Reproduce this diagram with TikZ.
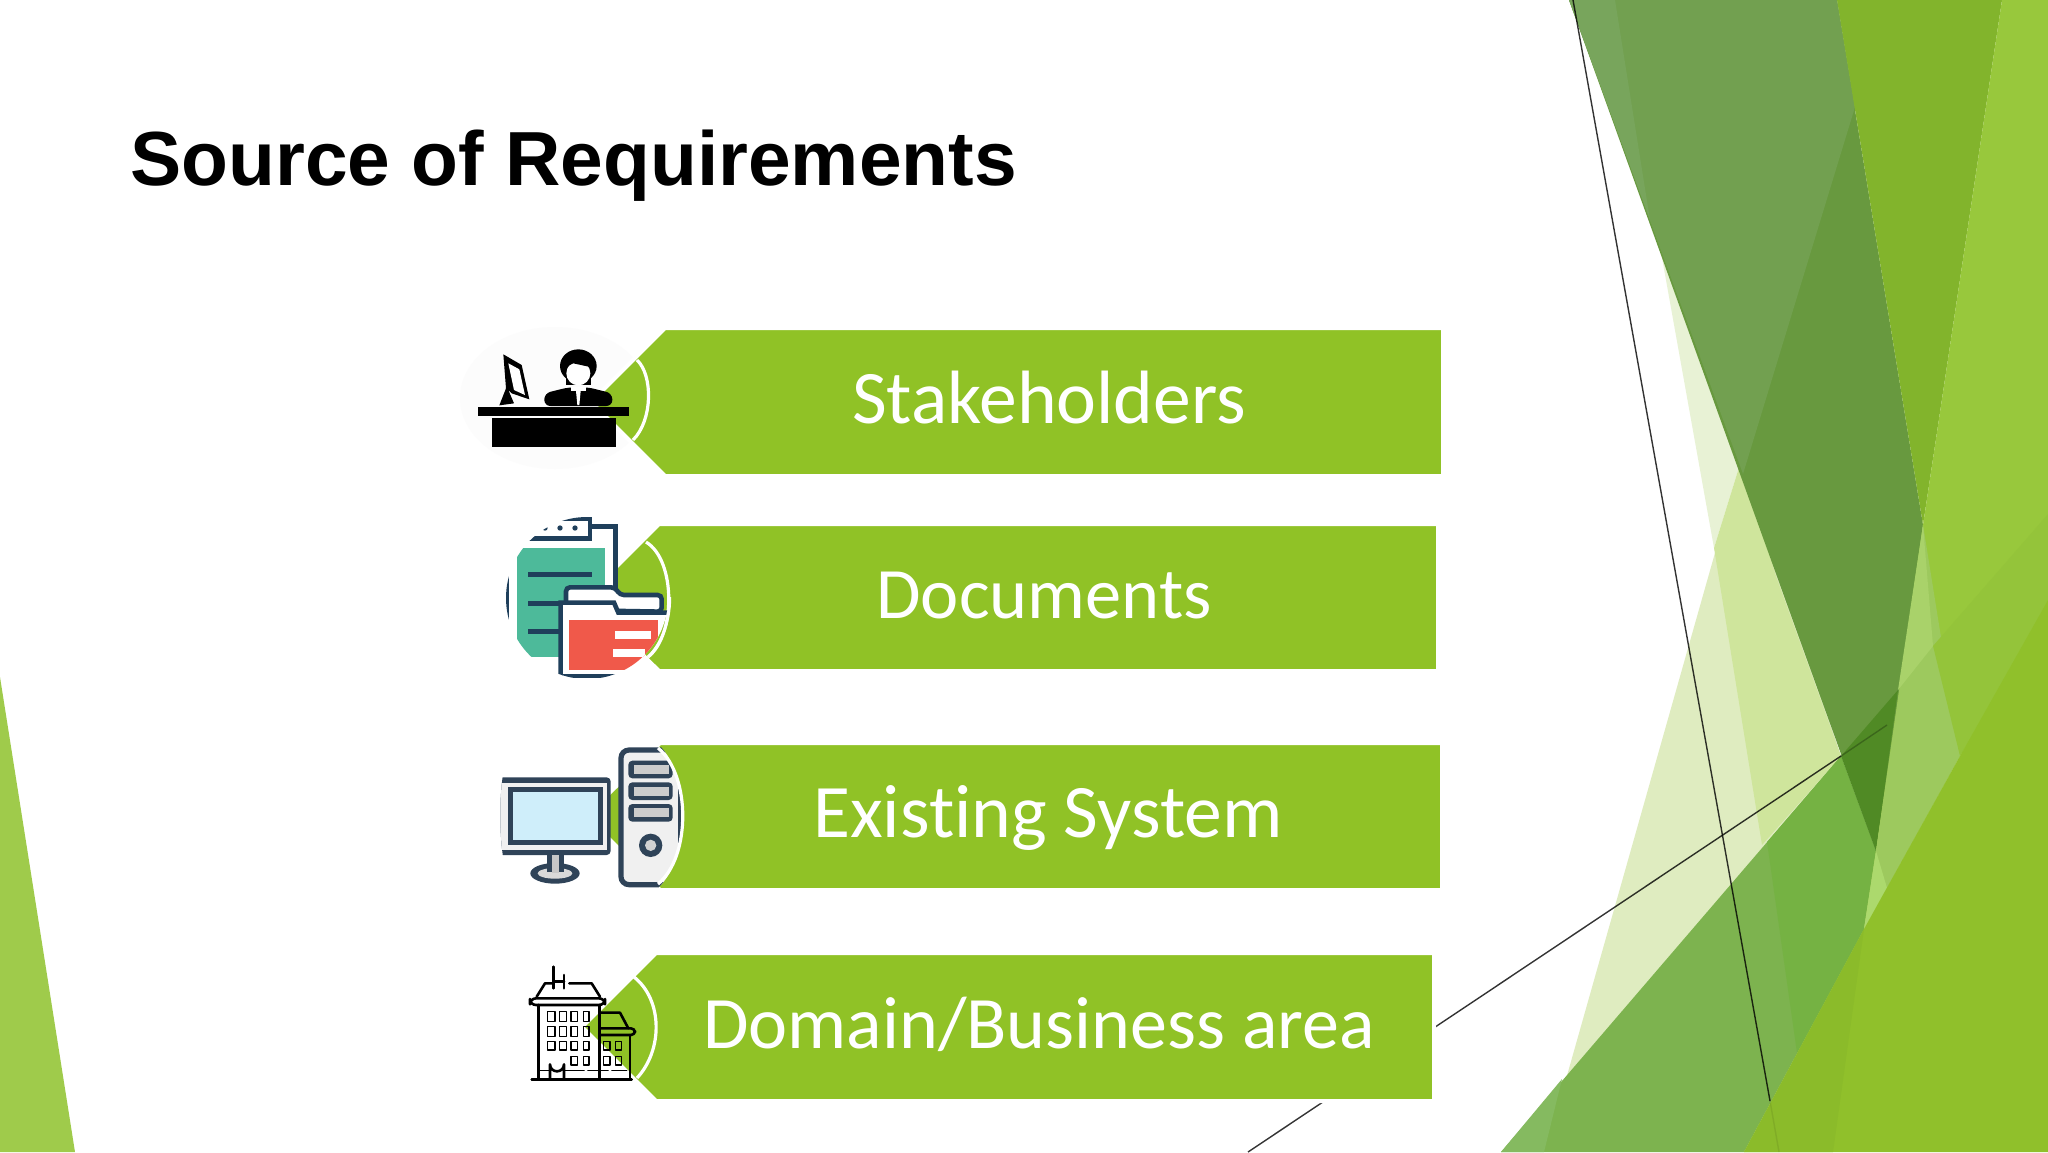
\documentclass[tikz,border=0pt]{standalone}
\usepackage{fontspec}
\setmainfont{Carlito}[Ligatures=NoCommon]
\newfontfamily\titlefont{Liberation Sans}
\definecolor{boxg}{HTML}{90C226}
\definecolor{dk}{HTML}{2F4358}
\definecolor{navy}{HTML}{1F3F5B}
\definecolor{sheet}{HTML}{4DBA9A}
\definecolor{redf}{HTML}{F0594A}
\definecolor{scr}{HTML}{CFEEFA}
\tikzset{
 px/.style={x=.5pt,y=-.5pt},
 facet/.code={\definecolor{fc}{HTML}{#1}\pgfkeysalso{/tikz/fill=fc,/tikz/draw=none}},
 hexbox/.style={fill=boxg,draw=white,line width=2pt},
 whitearc/.style={draw=white,line width=1.6pt},
 thin line/.style={draw=black,line width=.7pt,opacity=.8},
 boxlabel/.style={text=white,inner sep=0pt},
 ico/.style={line width=1.3pt,draw=black},
 navyline/.style={draw=navy,line width=2.3pt},
}
\begin{document}
\begin{tikzpicture}[px]
\useasboundingbox (0,0) rectangle (2048,1152);
\fill[white] (0,0) rectangle (2048,1152);
% left facet
\path[facet={9FCB4B}] (0,677) -- (75,1152) -- (0,1152) -- cycle;
% pale facets
\path[facet={DFECC0}] (1741,461) -- (1568,1072) -- (1555,1110) -- (1770,1000) -- (1841,756) -- cycle;
\path[facet={E8F2D5}] (1659,241) -- (1714,548) -- (1741,461) -- cycle;
\path[facet={CFE59C}] (1741,461) -- (1714,548) -- (1762,845) -- (1841,756) -- (1776,576) -- cycle;
% mid-green facet
\path[facet={7DB34F}] (1841,756) -- (1876,851) -- (1864,929) -- (1744,1152) -- (1501,1152) -- cycle;
\path[facet={75B243}] (1841,756) -- (1876,851) -- (1864,929) -- (1797,1053) -- (1767,842) -- cycle;
\path[facet={85BA60}] (1501,1152) -- (1544,1152) -- (1562,1079) -- cycle;
% dark facets
\path[facet={68993F}] (1569,0) -- (1837,0) -- (1923,525) -- (1917,576) -- (1876,851) -- cycle;
\path[facet={72A050}] (1569,0) -- (1837,0) -- (1855,107) -- (1743,474) -- cycle;
\path[facet={78A55C}] (1569,0) -- (1615,0) -- (1650,220) -- cycle;
\path[facet={508A25}] (1841,756) -- (1898,690) -- (1876,851) -- cycle;
% thin lines
\coordinate (la) at (1573,0);
\coordinate (lb) at (1770,1101);
\coordinate (lc) at (1779,1152);
\coordinate (ld) at (1248,1152);
\coordinate (lf) at (1841,756);
\coordinate (le) at (1887,725);
\draw[thin line] (la) -- (lb);
\draw[thin line] (ld) -- (lf);
\draw[black,line width=.7pt,opacity=.25] (lf) -- (le);
% bright facets
\path[facet={82B42C}] (1837,0) -- (2002,0) -- (1923,525) -- cycle;
\path[facet={98C83C}] (2002,0) -- (2048,0) -- (2048,620) -- (1960,756) -- (1887,888) -- (1864,929) -- (1876,851) -- (1923,525) -- cycle;
\path[facet={9DC95E}] (1923,525) -- (1960,756) -- (1887,888) -- (1864,929) -- (1876,851) -- cycle;
\path[facet={A9D26A}] (1923,525) -- (1933,646) -- (1898,690) -- cycle;
\path[facet={ACD96D}] (1876,851) -- (1887,888) -- (1864,929) -- cycle;
\path[facet={94C43A}] (1933,646) -- (2048,514) -- (2048,600) -- (1960,756) -- cycle;
\path[facet={90C02B}] (1744,1152) -- (1864,929) -- (1960,756) -- (2048,600) -- (2048,1152) -- cycle;
\path[facet={8BBB2A}] (1744,1152) -- (1864,929) -- (1833,1152) -- cycle;
\draw[black,line width=.7pt,opacity=.08] (lb) -- (lc);
% title
\node[anchor=base west,inner sep=0pt,font=\titlefont\bfseries\fontsize{38.35}{39}\selectfont] (title) at (130,185) {Source of Requirements};
% icon 1 background
\fill[black!1] (555,398) ellipse [x radius=95,y radius=71];
% boxes
\path[hexbox] (665,328) -- (1443,328) -- (1443,476) -- (665,476) -- (591,402) -- cycle;
\path[hexbox] (659,524) -- (1438,524) -- (1438,671) -- (659,671) -- (585,598) -- cycle;
\path[hexbox] (660,743) -- (1442,743) -- (1442,890) -- (660,890) -- (586,816) -- cycle;
\path[hexbox] (656,953) -- (1434,953) -- (1434,1101) -- (656,1101) -- (582,1027) -- cycle;
\node[boxlabel,font=\fontsize{37.8}{38}\selectfont] (n1) at (1049,398) {Stakeholders};
\node[boxlabel,font=\fontsize{36.2}{37}\selectfont] (n2) at (1044,596) {Documents};
\node[boxlabel,font=\fontsize{37.8}{38}\selectfont] (n3) at (1048,818) {Existing System};
\node[boxlabel,font=\fontsize{37}{37}\selectfont] (n4) at (1039,1024) {Domain/Business area};
% white arcs
\draw[whitearc] (637,360) .. controls (653,375) and (653,420) .. (633,440);
\draw[whitearc] (646,542) .. controls (676,560) and (676,635) .. (648,657);
\draw[whitearc] (634,977) .. controls (663,1000) and (663,1050) .. (637,1078);
% icon 1: desk and person
\begin{scope}[shift={(440,310)},scale=1/3]
\fill[black] (113,292) rectangle (568,318);
\fill[black] (155,325) rectangle (527,410);
\fill[black,rounded corners=3pt] (313,288) -- (313,250) -- (385,232) -- (445,232) -- (517,250) -- (517,288) -- cycle;
\fill[black] (415,168) ellipse [x radius=55,y radius=50];
\fill[black] (378,190) rectangle (452,225);
\fill[white] (415,190) ellipse [x radius=36,y radius=36];
\fill[black] (375,172) -- (400,160) -- (455,172) -- (455,140) -- (375,140) -- cycle;
\fill[white] (392,232) rectangle (438,243);
\fill[white] (408,243) -- (422,243) -- (418,285) -- (412,285) -- cycle;
\fill[black] (190,133) -- (245,165) -- (268,268) -- (215,250) -- (205,240) -- (222,280) -- (178,286) -- (198,235) -- cycle;
\fill[white] (205,160) -- (238,178) -- (255,255) -- (222,240) -- cycle;
\end{scope}
% icon 2: documents and folder
\begin{scope}
\clip (587,598) circle [radius=81];
\begin{scope}[shift={(440,310)},scale=1/3]
\fill[white] (190,620) -- (450,620) -- (450,650) -- (527,650) -- (527,1110) -- (190,1110) -- cycle;
\draw[navyline] (180,685) -- (450,685) -- (450,625) -- (180,625);
\draw[navyline] (450,650) -- (527,650) -- (527,840);
\fill[navy] (195,780) -- (208,780) -- (208,960) -- (195,960) -- cycle;
\foreach \k in {315,360,405} \fill[navy] (\k,654) circle [radius=8];
\fill[sheet] (230,715) -- (495,715) -- (495,1040) -- (230,1040) -- cycle;
\fill[navy] (265,786) rectangle (457,800);
\fill[navy] (265,873) rectangle (365,887);
\fill[navy] (265,958) rectangle (365,972);
\draw[navyline,fill=white,rounded corners=2pt] (378,900) -- (378,832) -- (525,832) -- (540,855) -- (665,855) -- (665,905) -- cycle;
\draw[navyline,fill=white] (362,1115) -- (362,878) -- (522,878) -- (535,908) -- (700,908) -- (700,1115) -- cycle;
\fill[redf] (388,930) rectangle (655,1080);
\fill[white] (525,962) rectangle (632,988);
\fill[white] (520,1018) rectangle (615,1040);
\draw[navyline] (362,1098) -- (560,1098);
\end{scope}
\end{scope}
\draw[white,line width=1.2pt] (670,597) .. controls (670,625) and (660,645) .. (648,657);
% icon 3: computer
\begin{scope}
\clip (658,744) .. controls (691,775) and (691,857) .. (658,888) -- (510,888) .. controls (497,850) and (497,780) .. (510,744) -- cycle;
\begin{scope}[shift={(440,720)},scale=1/3]
\fill[dk,rounded corners=2pt] (170,172) rectangle (512,405);
\fill[black!6] (170,190) rectangle (500,390);
\fill[dk] (205,200) rectangle (490,375);
\fill[scr] (220,215) rectangle (475,360);
\fill[dk] (345,460) ellipse [x radius=74,y radius=31];
\fill[black!15] (345,460) ellipse [x radius=52,y radius=16];
\fill[dk] (322,405) rectangle (372,455);
\fill[black!22] (335,405) rectangle (358,458);
\draw[dk,line width=2.6pt,fill=black!6,rounded corners=4pt] (543,90) rectangle (722,494);
\foreach \a/\b in {122/175,187/240,252/305}{
 \fill[dk,rounded corners=2pt] (565,\a) rectangle (698,\b);
 \fill[black!20] (581,\a+13) rectangle (686,\b-13);
}
\fill[dk] (632,376) circle [radius=35];
\fill[black!18] (632,376) circle [radius=17];
\end{scope}
\end{scope}
\draw[whitearc] (658,748) .. controls (691,775) and (691,857) .. (658,884);
% icon 4: buildings
\begin{scope}[shift={(440,720)},scale=1/3,line cap=round,line join=round]
\draw[ico,rounded corners=3pt] (270,835) rectangle (495,855);
\draw[ico] (290,830) -- (315,790) -- (340,790);
\draw[ico] (388,790) -- (455,790) -- (480,830);
\draw[ico] (340,740) -- (340,805);
\draw[ico] (372,765) -- (372,805);
\draw[ico] (345,785) -- (372,785);
\draw[ico] (295,855) -- (295,1077);
\draw[ico] (478,855) -- (478,1077);
\draw[ico] (275,1078) -- (575,1078);
\draw[line width=.8pt,black] (295,1052) -- (330,1052);
\draw[line width=.8pt,black,dash pattern=on 10pt off 2pt] (372,1052) -- (560,1052);
\draw[ico] (330,1077) -- (330,1033) arc (180:0:21) -- (372,1077);
\foreach \xa/\xb in {323/345,358/380,393/413,430/447}
 \foreach \ya/\yb in {875/905,920/950,965/990}
  \draw[line width=.8pt,black] (\xa,\ya) rectangle (\xb,\yb);
\foreach \xa/\xb in {393/413,430/447}
  \draw[line width=.8pt,black] (\xa,1010) rectangle (\xb,1035);
\foreach \xa/\xb in {490/510,527/545}
 \foreach \ya/\yb in {965/990,1010/1035}
  \draw[line width=.8pt,black] (\xa,\ya) rectangle (\xb,\yb);
\draw[ico] (482,878) -- (540,878) -- (565,925);
\draw[ico,rounded corners=2pt] (482,925) -- (585,925) -- (585,945) -- (482,945);
\draw[ico] (570,945) -- (570,1077);
\end{scope}
\end{tikzpicture}
\end{document}
